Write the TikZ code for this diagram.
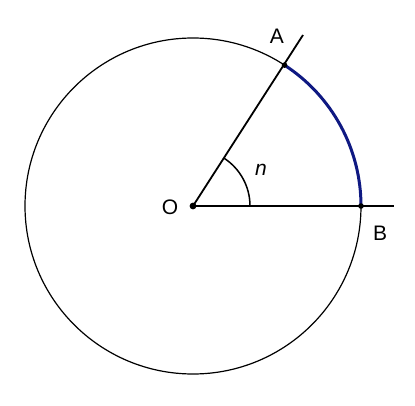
\documentclass[tikz,border=0pt]{standalone}
\usepackage{fontspec}
\setmainfont{Liberation Sans}
\usetikzlibrary{calc}
\definecolor{arcblue}{RGB}{15,25,130}
\begin{document}
\begin{tikzpicture}[x=1pt,y=-1pt,
  lbl/.style={font=\fontsize{21}{21}\selectfont, inner sep=0pt},
  thinline/.style={line width=1.2pt, black},
  ray/.style={line width=1.8pt, black}]
\useasboundingbox (0,0) rectangle (415,406);
\coordinate (O) at (193,206);
\coordinate (A) at ($(O)+(-57:168)$);
\coordinate (B) at (361,206);
\coordinate (Aend) at (303,35);
\coordinate (Bend) at (394,206);
\draw[thinline] (O) circle[radius=168];
\draw[line width=3pt, arcblue] (A) arc[start angle=-57, end angle=0, radius=168];
\draw[ray] (O) -- (Aend);
\draw[ray] (O) -- (Bend);
\draw[line width=1.5pt] ($(O)+(0:57)$) arc[start angle=0, end angle=-57, radius=57];
\fill (O) circle[radius=3.4];
\fill (B) circle[radius=2.8];
\fill (A) circle[radius=2.8];
\node[lbl] (Olbl) at (170,207) {O};
\node[lbl] (Albl) at (277,36) {A};
\node[lbl] (Blbl) at (380,233) {B};
\node[lbl] (nlbl) at (261,170) {\itshape n};
\end{tikzpicture}
\end{document}
